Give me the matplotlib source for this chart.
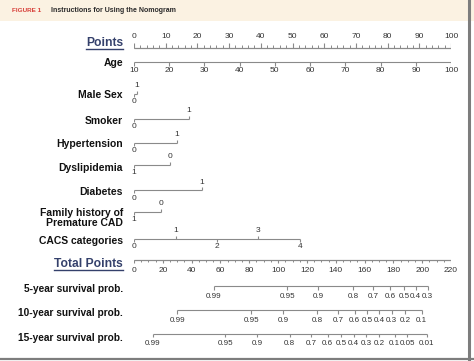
import matplotlib
matplotlib.use('Agg')
import matplotlib.pyplot as plt
from matplotlib.lines import Line2D
from matplotlib.patches import Rectangle

# ---- data (points for each level) ----
points_ticks = list(range(0, 101, 10))

age_levels = [10, 20, 30, 40, 50, 60, 70, 80, 90, 100]
age_points = [0, 11.1, 22.2, 33.3, 44.4, 55.6, 66.7, 77.8, 88.9, 100]

male_sex_levels = ['0', '1']
male_sex_points = [0, 1.0]
smoker_levels = ['0', '1']
smoker_points = [0, 17.2]
hypertension_levels = ['0', '1']
hypertension_points = [0, 13.5]
dyslipidemia_levels = ['1', '0']
dyslipidemia_points = [0, 11.3]
diabetes_levels = ['0', '1']
diabetes_points = [0, 21.5]
family_levels = ['1', '0']
family_points = [0, 8.5]
cacs_levels = ['0', '1', '2', '3', '4']
cacs_points = [0, 13.2, 26.2, 39.2, 52.4]

total_ticks = list(range(0, 221, 20))

surv5_labels = ['0.99', '0.95', '0.9', '0.8', '0.7', '0.6', '0.5', '0.4', '0.3']
surv5_total = [55.2, 106.4, 127.9, 152.3, 166.2, 178.0, 187.5, 195.5, 203.9]
surv10_labels = ['0.99', '0.95', '0.9', '0.8', '0.7', '0.6', '0.5', '0.4',
                 '0.3', '0.2', '0.1']
surv10_total = [30.1, 81.5, 103.6, 127.2, 141.6, 153.2, 162.0, 170.1,
                178.8, 188.0, 199.6]
surv15_labels = ['0.99', '0.95', '0.9', '0.8', '0.7', '0.6', '0.5', '0.4',
                 '0.3', '0.2', '0.1', '0.05', '0.01']
surv15_total = [13.0, 63.4, 85.5, 108.0, 123.0, 134.5, 144.0, 152.5,
                161.0, 170.0, 181.0, 189.5, 203.0]

TOTAL_MAX = 220

# ---- layout (pixels) ----
W, H = 474, 361
X0, X1 = 134, 451
LINE = '#8a8a8a'
TXT = '#333333'
NAVY = '#34406b'

plt.rcParams['font.family'] = ['Liberation Sans', 'DejaVu Sans']

fig = plt.figure(figsize=(W / 100, H / 100), dpi=100)
ax = fig.add_axes([X0 / W, 0, (X1 - X0) / W, 1])
ax.set_xlim(0, 100)
ax.set_ylim(H, 0)
ax.axis('off')

# header band
fig.patches.append(Rectangle((0, 1 - 21 / H), 1, 21 / H, transform=fig.transFigure,
                             facecolor='#fbf2e2', edgecolor='none', zorder=0))
fig.text(12 / W, 1 - 11 / H, 'FIGURE 1', color='#d8413b', fontsize=4.6,
         weight='bold', va='center')
fig.text(51 / W, 1 - 11 / H, 'Instructions for Using the Nomogram',
         color='#2a2a2a', fontsize=5.0, weight='bold', va='center')
# frame on the right and bottom
fig.lines.append(Line2D([468.5 / W] * 2, [0, 1], transform=fig.transFigure,
                        color='#7d7d7d', lw=2.2))
fig.lines.append(Line2D([0, 1], [1 - 358.5 / H] * 2, transform=fig.transFigure,
                        color='#7d7d7d', lw=1.6))


def row_label(y, text, size=7.5, color='#111111'):
    return ax.annotate(text, (0, y), xytext=(-8, 0), textcoords='offset points',
                       ha='right', va='center', fontsize=size, weight='bold',
                       color=color, linespacing=1.0)


def scale(y, xs, labels, sides, tick=3.0, pad=1.2, size=6):
    ax.hlines(y, min(xs), max(xs), color=LINE, lw=0.8)
    for x, lab, side in zip(xs, labels, sides):
        up = side == 'up'
        end = y - tick if up else y + tick
        ax.vlines(x, y, end, color=LINE, lw=0.8)
        ax.text(x, end - pad if up else end + pad, lab, ha='center',
                va='bottom' if up else 'top', fontsize=size, color=TXT)


# Points
y = 47.5
ax.hlines(y, 0, 100, color=LINE, lw=0.8)
ax.vlines([p for p in range(0, 101, 2) if p % 10], y, y - 2.5, color=LINE, lw=0.7)
scale(y, points_ticks, [str(p) for p in points_ticks], ['up'] * 11, tick=5, pad=2.5)
lab = row_label(43, 'Points', size=8.7, color=NAVY)

# Age
scale(62.3, age_points, [str(a) for a in age_levels], ['down'] * 10, tick=3.5, pad=1.5)
row_label(63.5, 'Age')

binary_rows = [
    (93.5, 94.5, 'Male Sex', male_sex_points, male_sex_levels),
    (118.7, 120.5, 'Smoker', smoker_points, smoker_levels),
    (142.7, 144.0, 'Hypertension', hypertension_points, hypertension_levels),
    (165.0, 168.0, 'Dyslipidemia', dyslipidemia_points, dyslipidemia_levels),
    (190.0, 192.3, 'Diabetes', diabetes_points, diabetes_levels),
    (211.7, 218.0, 'Family history of\nPremature CAD', family_points, family_levels),
]
for ly, ty, name, pts, levels in binary_rows:
    scale(ly, pts, levels, ['down', 'up'], tick=3, pad=1.5)
    row_label(ty, name)

scale(239, cacs_points, cacs_levels, ['down', 'up', 'down', 'up', 'down'],
      tick=3, pad=1.5)
row_label(240.7, 'CACS categories')

# Total Points
k = 100 / TOTAL_MAX
y = 259.5
ax.hlines(y, 0, 100, color=LINE, lw=0.8)
ax.vlines([t * k for t in range(0, TOTAL_MAX + 1, 5) if t % 20], y, y + 2.5,
          color=LINE, lw=0.7)
scale(y, [t * k for t in total_ticks], [str(t) for t in total_ticks],
      ['down'] * len(total_ticks), tick=3.5, pad=3.5)
tlab = row_label(264, 'Total Points', size=8.7, color=NAVY)

for ly, ty, name, labels, tot in [
        (286.3, 289, '5-year survival prob.', surv5_labels, surv5_total),
        (310.3, 313, '10-year survival prob.', surv10_labels, surv10_total),
        (333.5, 338, '15-year survival prob.', surv15_labels, surv15_total)]:
    scale(ly, [t * k for t in tot], labels, ['down'] * len(labels),
          tick=3.5, pad=3.0, size=5.8)
    row_label(ty, name, size=7.3)

# underline the two point headings
fig.canvas.draw()
r = fig.canvas.get_renderer()
for t in (lab, tlab):
    bb = t.get_window_extent(r)
    fig.lines.append(Line2D([bb.x0 / W, bb.x1 / W], [(bb.y0 + 0.5) / H] * 2,
                            transform=fig.transFigure, color=NAVY, lw=1.0))

fig.savefig('out.png', dpi=100, facecolor='white')
